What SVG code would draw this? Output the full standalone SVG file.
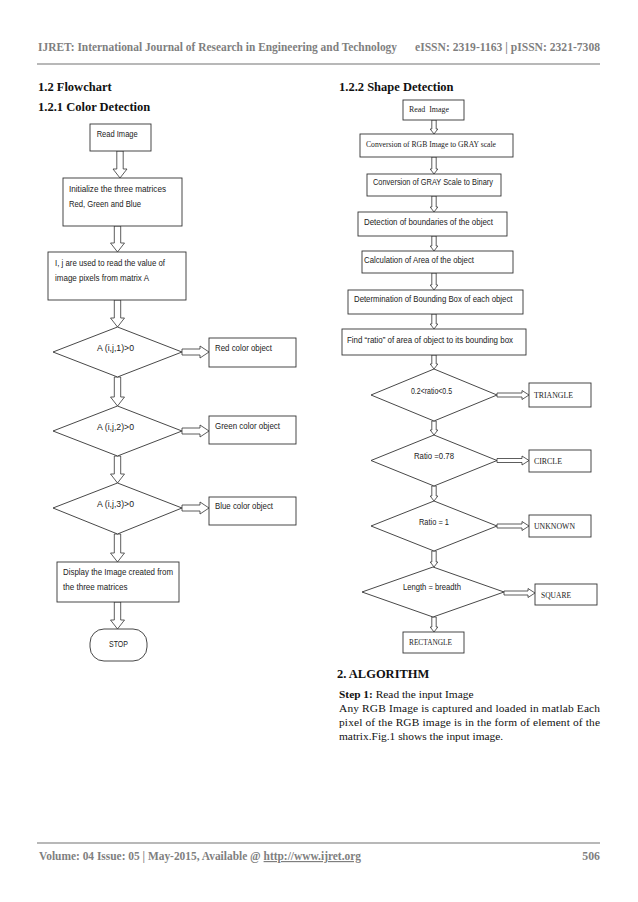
<svg xmlns="http://www.w3.org/2000/svg" width="638" height="902" viewBox="0 0 638 902">
<style>
.bg{fill:#fff}
.hd{font-family:"Liberation Serif","Times New Roman",serif;font-weight:bold;font-size:11.8px;fill:#7f7f7f}
.h2{font-family:"Liberation Serif","Times New Roman",serif;font-weight:bold;font-size:12.5px;fill:#111}
.body{font-family:"Liberation Serif","Times New Roman",serif;font-size:11.4px;fill:#111}
.rule{stroke:#a0a0a0;stroke-width:1.3;fill:none}
.box{fill:#fff;stroke:#333;stroke-width:0.9}
.arr{fill:#fff;stroke:#333;stroke-width:0.8;stroke-linejoin:miter}
.ls{font-family:"Liberation Sans Narrow","Liberation Sans",Arial,sans-serif;font-size:9.5px;fill:#222}
.rs{font-family:"Liberation Sans Narrow","Liberation Sans",Arial,sans-serif;font-size:9px;fill:#222}
.rt{font-family:"Liberation Serif","Times New Roman",serif;font-size:9px;fill:#222}
</style>
<rect class="bg" x="0" y="0" width="638" height="902"/>

<g id="page-header">
<text class="hd" x="38" y="51" textLength="359" lengthAdjust="spacingAndGlyphs">IJRET: International Journal of Research in Engineering and Technology</text>
<text class="hd" x="415" y="51" textLength="185" lengthAdjust="spacingAndGlyphs">eISSN: 2319-1163 | pISSN: 2321-7308</text>
<line class="rule" x1="37" y1="64" x2="600" y2="64"/>
</g>

<g id="headings">
<text class="h2" x="38" y="91">1.2 Flowchart</text>
<text class="h2" x="38" y="110.5">1.2.1 Color Detection</text>
<text class="h2" x="339" y="91">1.2.2 Shape Detection</text>
</g>

<g id="connectors">
<!-- left vertical -->
<polygon class="arr" points="116.8,151 123.2,151 123.2,169 127,169 120,178 113,169 116.8,169"/>
<polygon class="arr" points="114.3,226 120.7,226 120.7,243 124.5,243 117.5,252 110.5,243 114.3,243"/>
<polygon class="arr" points="114.3,300 120.7,300 120.7,318 124.5,318 117.5,327 110.5,318 114.3,318"/>
<polygon class="arr" points="114.3,377 120.7,377 120.7,397 124.5,397 117.5,406 110.5,397 114.3,397"/>
<polygon class="arr" points="114.3,456 120.7,456 120.7,474 124.5,474 117.5,483 110.5,474 114.3,474"/>
<polygon class="arr" points="114.3,534 120.7,534 120.7,553 124.5,553 117.5,562 110.5,553 114.3,553"/>
<polygon class="arr" points="114.3,602 120.7,602 120.7,620 124.5,620 117.5,629 110.5,620 114.3,620"/>
<!-- left horizontal -->
<polygon class="arr" points="182,349 200,349 200,346 209,352 200,358 200,355 182,355"/>
<polygon class="arr" points="182,428 200,428 200,425 209,431 200,437 200,434 182,434"/>
<polygon class="arr" points="182,505 200,505 200,502 209,508 200,514 200,511 182,511"/>
<!-- right vertical -->
<polygon class="arr" points="431.8,120 436.2,120 436.2,129 437.8,129 434,134 430.2,129 431.8,129"/>
<polygon class="arr" points="431.8,157 436.2,157 436.2,169 437.8,169 434,174 430.2,169 431.8,169"/>
<polygon class="arr" points="431.8,196 436.2,196 436.2,207 437.8,207 434,212 430.2,207 431.8,207"/>
<polygon class="arr" points="431.8,236 436.2,236 436.2,246 437.8,246 434,251 430.2,246 431.8,246"/>
<polygon class="arr" points="431.8,273 436.2,273 436.2,285 437.8,285 434,290 430.2,285 431.8,285"/>
<polygon class="arr" points="431.8,314 436.2,314 436.2,324 437.8,324 434,329 430.2,324 431.8,324"/>
<polygon class="arr" points="431.8,355 436.2,355 436.2,364 437.8,364 434,369 430.2,364 431.8,364"/>
<polygon class="arr" points="431.8,421 436.2,421 436.2,430 437.8,430 434,435 430.2,430 431.8,430"/>
<polygon class="arr" points="431.8,486 436.2,486 436.2,496 437.8,496 434,501 430.2,496 431.8,496"/>
<polygon class="arr" points="431.8,551 436.2,551 436.2,562 437.8,562 434,567 430.2,562 431.8,562"/>
<polygon class="arr" points="431.8,617 436.2,617 436.2,627 437.8,627 434,632 430.2,627 431.8,627"/>
<!-- right horizontal -->
<polygon class="arr" points="497,393 522,393 522,390.5 529,395 522,399.5 522,397 497,397"/>
<polygon class="arr" points="497,458.5 522,458.5 522,456 529,460.5 522,465 522,462.5 497,462.5"/>
<polygon class="arr" points="497,524 522,524 522,521.5 529,526 522,530.5 522,528 497,528"/>
<polygon class="arr" points="504,591 528,591 528,588.5 535,593 528,597.5 528,595 504,595"/>
</g>

<g id="c-read">
<rect class="box" x="90" y="124" width="61" height="27"/>
<text class="ls" x="96.7" y="137" textLength="41" lengthAdjust="spacingAndGlyphs">Read Image</text>
</g>
<g id="c-init">
<rect class="box" x="63" y="178" width="119" height="48"/>
<text class="ls" x="69" y="192" textLength="97" lengthAdjust="spacingAndGlyphs">Initialize the three matrices</text>
<text class="ls" x="69" y="207" textLength="72" lengthAdjust="spacingAndGlyphs">Red, Green and Blue</text>
</g>
<g id="c-ij">
<rect class="box" x="48" y="252" width="138" height="48"/>
<text class="ls" x="55" y="266" textLength="110" lengthAdjust="spacingAndGlyphs">I, j are used to read the value of</text>
<text class="ls" x="55" y="281" textLength="94" lengthAdjust="spacingAndGlyphs">image pixels from matrix A</text>
</g>
<g id="c-d1">
<polygon class="box" points="53,352 117.5,327 182,352 117.5,377"/>
<text class="ls" x="97" y="351" textLength="37" lengthAdjust="spacingAndGlyphs">A (i,j,1)&gt;0</text>
</g>
<g id="c-red">
<rect class="box" x="209" y="338" width="87" height="29"/>
<text class="ls" x="215" y="351" textLength="57" lengthAdjust="spacingAndGlyphs">Red color object</text>
</g>
<g id="c-d2">
<polygon class="box" points="53,431 117.5,406 182,431 117.5,456"/>
<text class="ls" x="97" y="429.5" textLength="37" lengthAdjust="spacingAndGlyphs">A (i,j,2)&gt;0</text>
</g>
<g id="c-green">
<rect class="box" x="209" y="416" width="87" height="28"/>
<text class="ls" x="215" y="428.5" textLength="65" lengthAdjust="spacingAndGlyphs">Green color object</text>
</g>
<g id="c-d3">
<polygon class="box" points="53,508 117.5,483 182,508 117.5,534"/>
<text class="ls" x="97" y="507" textLength="37" lengthAdjust="spacingAndGlyphs">A (i,j,3)&gt;0</text>
</g>
<g id="c-blue">
<rect class="box" x="209" y="497" width="87" height="28"/>
<text class="ls" x="215" y="509" textLength="58" lengthAdjust="spacingAndGlyphs">Blue color object</text>
</g>
<g id="c-display">
<rect class="box" x="57" y="562" width="122" height="40"/>
<text class="ls" x="63" y="575" textLength="110" lengthAdjust="spacingAndGlyphs">Display the Image created from</text>
<text class="ls" x="63" y="589.5" textLength="64.5" lengthAdjust="spacingAndGlyphs">the three matrices</text>
</g>
<g id="c-stop">
<rect class="box" x="90" y="629" width="57" height="32" rx="14" ry="14"/>
<text class="ls" x="109" y="647" textLength="19" lengthAdjust="spacingAndGlyphs">STOP</text>
</g>

<g id="s-read">
<rect class="box" x="403" y="100" width="61" height="20"/>
<text class="rt" x="409" y="112.3" xml:space="preserve" textLength="40" lengthAdjust="spacingAndGlyphs">Read  Image</text>
</g>
<g id="s-gray">
<rect class="box" x="360" y="134" width="153" height="23"/>
<text class="rt" x="366" y="146.5" textLength="130" lengthAdjust="spacingAndGlyphs">Conversion of RGB Image to GRAY scale</text>
</g>
<g id="s-binary">
<rect class="box" x="367" y="174" width="134" height="22"/>
<text class="rs" x="373" y="184.8" textLength="120" lengthAdjust="spacingAndGlyphs">Conversion of GRAY Scale to Binary</text>
</g>
<g id="s-boundary">
<rect class="box" x="358" y="212" width="149" height="24"/>
<text class="rs" x="364" y="224.5" textLength="129" lengthAdjust="spacingAndGlyphs">Detection of boundaries of the object</text>
</g>
<g id="s-area">
<rect class="box" x="362" y="251" width="151" height="22"/>
<text class="rs" x="364" y="263" textLength="110" lengthAdjust="spacingAndGlyphs">Calculation of Area of the object</text>
</g>
<g id="s-bbox">
<rect class="box" x="348" y="290" width="175" height="24"/>
<text class="rs" x="354" y="301.5" textLength="158.5" lengthAdjust="spacingAndGlyphs">Determination of Bounding Box of each object</text>
</g>
<g id="s-ratio">
<rect class="box" x="342" y="329" width="184" height="26"/>
<text class="rs" x="347" y="342.5" textLength="166" lengthAdjust="spacingAndGlyphs">Find “ratio” of area of object to its bounding box</text>
</g>
<g id="s-d1">
<polygon class="box" points="371,395 434,369 497,395 434,421"/>
<text class="rs" x="411" y="394" textLength="41" lengthAdjust="spacingAndGlyphs">0.2&lt;ratio&lt;0.5</text>
</g>
<g id="s-triangle">
<rect class="box" x="529" y="383" width="62" height="24"/>
<text class="rt" x="534" y="397.5" textLength="39" lengthAdjust="spacingAndGlyphs">TRIANGLE</text>
</g>
<g id="s-d2">
<polygon class="box" points="371,460.5 434,435 497,460.5 434,486"/>
<text class="rs" x="414" y="459" textLength="40" lengthAdjust="spacingAndGlyphs">Ratio =0.78</text>
</g>
<g id="s-circle">
<rect class="box" x="529" y="450" width="62" height="22"/>
<text class="rt" x="534" y="463.5" textLength="28" lengthAdjust="spacingAndGlyphs">CIRCLE</text>
</g>
<g id="s-d3">
<polygon class="box" points="371,526 434,501 497,526 434,551"/>
<text class="rs" x="419" y="525" textLength="30" lengthAdjust="spacingAndGlyphs">Ratio = 1</text>
</g>
<g id="s-unknown">
<rect class="box" x="529" y="515" width="62" height="22"/>
<text class="rt" x="534" y="528.5" textLength="41" lengthAdjust="spacingAndGlyphs">UNKNOWN</text>
</g>
<g id="s-d4">
<polygon class="box" points="362,592 433,567 504,592 433,617"/>
<text class="rs" x="403" y="590" textLength="58" lengthAdjust="spacingAndGlyphs">Length = breadth</text>
</g>
<g id="s-square">
<rect class="box" x="535" y="584" width="62" height="21"/>
<text class="rt" x="541" y="597.5" textLength="30" lengthAdjust="spacingAndGlyphs">SQUARE</text>
</g>
<g id="s-rectangle">
<rect class="box" x="403" y="632" width="61" height="21"/>
<text class="rt" x="409" y="645" textLength="43" lengthAdjust="spacingAndGlyphs">RECTANGLE</text>
</g>

<g id="algorithm">
<text class="h2" x="337" y="678">2. ALGORITHM</text>
<text class="body" x="339" y="697.5"><tspan font-weight="bold">Step 1:</tspan> Read the input Image</text>
<text class="body" x="339" y="711.5" textLength="261">Any RGB Image is captured and loaded in matlab Each</text>
<text class="body" x="339" y="725.5" textLength="261">pixel of the RGB image is in the form of element of the</text>
<text class="body" x="339" y="739.5">matrix.Fig.1 shows the input image.</text>
</g>

<g id="page-footer">
<line class="rule" x1="37" y1="843" x2="600" y2="843"/>
<text class="hd" x="39" y="860" textLength="322" lengthAdjust="spacingAndGlyphs">Volume: 04 Issue: 05 | May-2015, Available @ <tspan text-decoration="underline">http://www.ijret.org</tspan></text>
<text class="hd" x="600" y="860" text-anchor="end">506</text>
</g>
</svg>
